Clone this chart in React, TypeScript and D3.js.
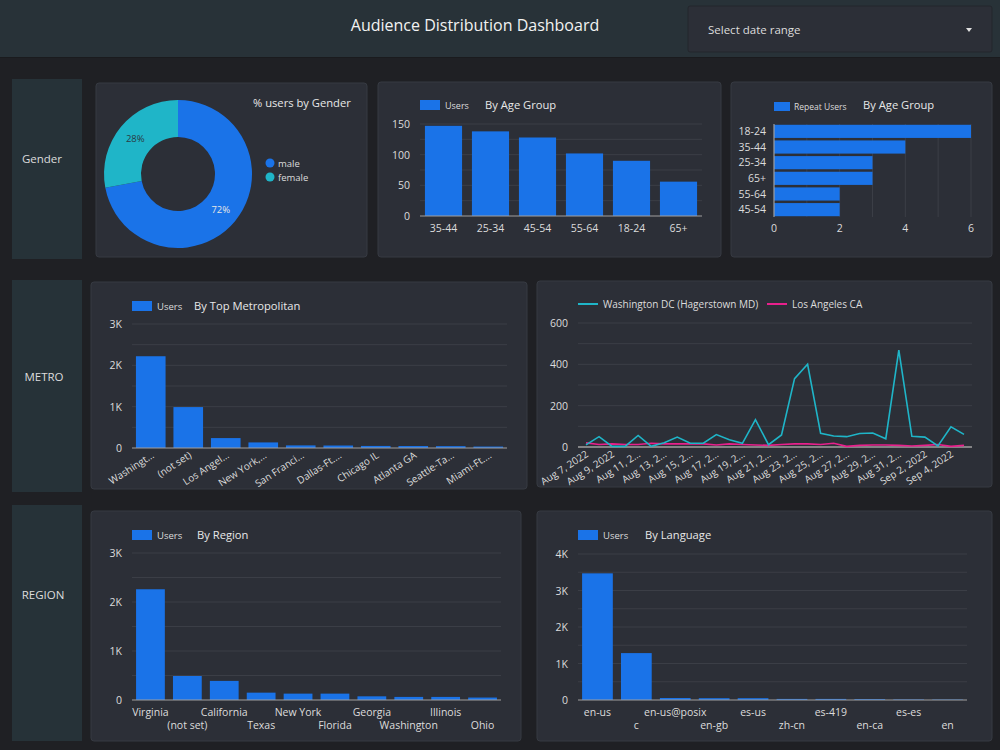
import React from "react";
import * as d3 from "d3";

const FONT = "'Open Sans', 'Noto Sans', sans-serif";
const BLUE = "#1a73e8";
const TEAL = "#1fb5c8";
const PINK = "#e8208c";
const PANEL = "#2c2f37";
const GRID = "#3b3e46";
const AXIS = "#a0a0a0";
const TXT = "#dcdcdc";
const TITLE_SIZE = 11.2;

// ---------- data ----------
const genderLabels = ["male", "female"];
const genderValues = [72, 28];

const ageGroups = ["35-44", "25-34", "45-54", "55-64", "18-24", "65+"];
const ageUsers = [147, 138, 128, 102, 90, 56];

const repeatGroups = ["18-24", "35-44", "25-34", "65+", "55-64", "45-54"];
const repeatUsers = [6, 4, 3, 3, 2, 2];

const metroNames = [
  "Washingt…", "(not set)", "Los Angel…", "New York,…", "San Franci…",
  "Dallas-Ft.…", "Chicago IL", "Atlanta GA", "Seattle-Ta…", "Miami-Ft.…",
];
const metroUsers = [2220, 990, 240, 135, 63, 60, 50, 48, 45, 35];

const days = [
  "Aug 7", "Aug 8", "Aug 9", "Aug 10", "Aug 11", "Aug 12", "Aug 13", "Aug 14", "Aug 15", "Aug 16",
  "Aug 17", "Aug 18", "Aug 19", "Aug 20", "Aug 21", "Aug 22", "Aug 23", "Aug 24", "Aug 25", "Aug 26",
  "Aug 27", "Aug 28", "Aug 29", "Aug 30", "Aug 31", "Sep 1", "Sep 2", "Sep 3", "Sep 4", "Sep 5",
];
const dayTickLabels = [
  "Aug 7, 2022", "Aug 9, 2022", "Aug 11, 2…", "Aug 13, 2…", "Aug 15, 2…", "Aug 17, 2…",
  "Aug 19, 2…", "Aug 21, 2…", "Aug 23, 2…", "Aug 25, 2…", "Aug 27, 2…", "Aug 29, 2…",
  "Aug 31, 2…", "Sep 2, 2022", "Sep 4, 2022",
];
const washingtonValues = [10, 50, 3, 3, 56, 3, 21, 48, 18, 18, 60, 35, 18, 132, 11, 58, 331, 400, 66, 53, 50, 65, 68, 40, 469, 52, 48, 5, 98, 61];
const laValues = [20, 12, 15, 12, 12, 18, 15, 15, 15, 15, 10, 15, 12, 10, 8, 12, 15, 15, 12, 18, 3, 8, 10, 10, 8, 5, 8, 12, 3, 8];

const regionNames = ["Virginia", "(not set)", "California", "Texas", "New York", "Florida", "Georgia", "Washington", "Illinois", "Ohio"];
const regionUsers = [2260, 490, 390, 150, 130, 130, 75, 63, 63, 50];

const langNames = ["en-us", "c", "en-us@posix", "en-gb", "es-us", "zh-cn", "es-419", "en-ca", "es-es", "en"];
const langUsers = [3470, 1285, 55, 50, 50, 30, 30, 25, 15, 12];

const kFmt = (d: number) => (d === 0 ? "0" : `${d / 1000}K`);

// ---------- components ----------
function Panel({ x, y, w, h }: { x: number; y: number; w: number; h: number }) {
  return <rect x={x} y={y} width={w} height={h} rx={3} fill={PANEL} stroke="#363a42" strokeWidth={1} />;
}

function SideLabel({ y, h, text, ty, tx }: { y: number; h: number; text: string; ty: number; tx: number }) {
  return (
    <g>
      <rect x={12} y={y} width={70} height={h} fill="#263238" />
      <text x={tx} y={ty} textAnchor="middle" fill={TXT} fontSize={11.5} fontFamily={FONT}>
        {text}
      </text>
    </g>
  );
}

function Legend({ x, y, label, title, titleX, labelSize = 9.5 }: any) {
  return (
    <g fontFamily={FONT}>
      <rect x={x} y={y - 5} width={20} height={10} fill={BLUE} />
      <text x={x + 25} y={y + 3.5} fill={TXT} fontSize={labelSize}>{label}</text>
      <text x={titleX} y={y + 4} fill="#e8e8e8" fontSize={TITLE_SIZE}>{title}</text>
    </g>
  );
}

function VBar(props: any) {
  const { x0, x1, yBase, yTop, max, labelStep, gridStep, cats, vals, pad, fmt, mode, labelY } = props;
  const y = d3.scaleLinear().domain([0, max]).range([yBase, yTop]);
  const x = d3.scaleBand<string>().domain(cats).range([x0, x1]).paddingInner(pad).paddingOuter(pad / 2);
  const grid = d3.range(gridStep, max + 0.001, gridStep);
  const ticks = d3.range(0, max + 0.001, labelStep);
  return (
    <g fontFamily={FONT}>
      {grid.map((g) => (
        <line key={g} x1={x0} x2={x1} y1={y(g)} y2={y(g)} stroke={GRID} strokeWidth={1} />
      ))}
      {ticks.map((t) => (
        <text key={t} x={x0 - 10} y={y(t) + 4} textAnchor="end" fill={TXT} fontSize={10.5}>
          {fmt(t)}
        </text>
      ))}
      {cats.map((c: string, i: number) => (
        <rect key={c} x={x(c)} y={y(vals[i])} width={x.bandwidth()} height={yBase - y(vals[i])} fill={BLUE} />
      ))}
      <line x1={x0} x2={x1} y1={yBase} y2={yBase} stroke={AXIS} strokeWidth={1.2} />
      {cats.map((c: string, i: number) => {
        const cx = (x(c) as number) + x.bandwidth() / 2;
        if (mode === "rot") {
          return (
            <text key={c} transform={`translate(${cx + 4},${yBase + 9}) rotate(-33)`} textAnchor="end" fill={TXT} fontSize={10}>
              {c}
            </text>
          );
        }
        if (mode === "stagger") {
          return (
            <text key={c} x={cx} y={yBase + (i % 2 === 0 ? 15.5 : 29)} textAnchor="middle" fill={TXT} fontSize={10.5}>
              {c}
            </text>
          );
        }
        return (
          <text key={c} x={cx} y={labelY} textAnchor="middle" fill={TXT} fontSize={10.5}>
            {c}
          </text>
        );
      })}
    </g>
  );
}

function Donut() {
  const cx = 178, cy = 174;
  const pie = d3.pie<number>().sort(null).value((d) => d);
  const arcs = pie(genderValues);
  const arc = d3.arc<d3.PieArcDatum<number>>().innerRadius(37).outerRadius(74);
  const colors = [BLUE, TEAL];
  const lblColors = ["#e6e6e6", "#2a3a44"];
  return (
    <g fontFamily={FONT}>
      <g transform={`translate(${cx},${cy})`}>
        {arcs.map((a, i) => (
          <path key={i} d={arc(a) as string} fill={colors[i]} />
        ))}
        {arcs.map((a, i) => {
          const [lx, ly] = arc.centroid(a);
          return (
            <text key={i} x={lx} y={ly + 3.5} textAnchor="middle" fill={lblColors[i]} fontSize={9.5}>
              {genderValues[i]}%
            </text>
          );
        })}
      </g>
      <text x={253} y={107} fill="#e8e8e8" fontSize={TITLE_SIZE}>% users by Gender</text>
      {genderLabels.map((g, i) => (
        <g key={g}>
          <circle cx={270} cy={163 + i * 14} r={4.5} fill={colors[i]} />
          <text x={278} y={166.5 + i * 14} fill={TXT} fontSize={9.5}>{g}</text>
        </g>
      ))}
    </g>
  );
}

function HBar() {
  const x0 = 774, x1 = 971;
  const x = d3.scaleLinear().domain([0, 6]).range([x0, x1]);
  const y = d3.scaleBand<string>().domain(repeatGroups).range([124, 217]).paddingInner(0.16).paddingOuter(0.05);
  return (
    <g fontFamily={FONT}>
      {d3.range(1, 7).map((t) => (
        <line key={t} x1={x(t)} x2={x(t)} y1={124} y2={217} stroke={GRID} />
      ))}
      {repeatGroups.map((g, i) => (
        <g key={g}>
          <rect x={x0} y={y(g)} width={x(repeatUsers[i]) - x0} height={y.bandwidth()} fill={BLUE} />
          <text x={x0 - 8} y={(y(g) as number) + y.bandwidth() / 2 + 3.8} textAnchor="end" fill={TXT} fontSize={10.5}>
            {g}
          </text>
        </g>
      ))}
      <line x1={x0} x2={x0} y1={124} y2={217} stroke={AXIS} strokeWidth={1.2} />
      {[0, 2, 4, 6].map((t) => (
        <text key={t} x={x(t)} y={232} textAnchor="middle" fill={TXT} fontSize={10.5}>{t}</text>
      ))}
      <rect x={774} y={102} width={16} height={9} fill={BLUE} />
      <text x={794} y={109.5} fill={TXT} fontSize={8.5}>Repeat Users</text>
      <text x={863} y={109} fill="#e8e8e8" fontSize={TITLE_SIZE}>By Age Group</text>
    </g>
  );
}

function LineChart() {
  const x0 = 578, x1 = 972, yBase = 447, yTop = 323;
  const x = d3.scaleLinear().domain([0, days.length - 1]).range([586, 964]);
  const y = d3.scaleLinear().domain([0, 600]).range([yBase, yTop]);
  const line = d3.line<number>().x((_, i) => x(i)).y((d) => y(d));
  return (
    <g fontFamily={FONT}>
      {d3.range(100, 601, 100).map((g) => (
        <line key={g} x1={x0} x2={x1} y1={y(g)} y2={y(g)} stroke={GRID} />
      ))}
      {[0, 200, 400, 600].map((t) => (
        <text key={t} x={x0 - 10} y={y(t) + 4} textAnchor="end" fill={TXT} fontSize={10.5}>{t}</text>
      ))}
      <line x1={x0} x2={x1} y1={yBase} y2={yBase} stroke={AXIS} strokeWidth={1.5} />
      <path d={line(laValues) as string} fill="none" stroke={PINK} strokeWidth={1.6} />
      <path d={line(washingtonValues) as string} fill="none" stroke={TEAL} strokeWidth={1.6} />
      {dayTickLabels.map((l, k) => (
        <text key={l} transform={`translate(${x(k * 2) + 3},${yBase + 9}) rotate(-33)`} textAnchor="end" fill={TXT} fontSize={10}>
          {l}
        </text>
      ))}
      <line x1={578} x2={598} y1={304} y2={304} stroke={TEAL} strokeWidth={2} />
      <text x={603} y={307.5} fill={TXT} fontSize={10}>Washington DC (Hagerstown MD)</text>
      <line x1={767} x2={787} y1={304} y2={304} stroke={PINK} strokeWidth={2} />
      <text x={792} y={307.5} fill={TXT} fontSize={10}>Los Angeles CA</text>
    </g>
  );
}

export default function App() {
  return (
    <svg width={1000} height={750} style={{ position: "absolute", left: 0, top: 0, display: "block" }} fontFamily={FONT}>
      <rect x={0} y={0} width={1000} height={750} fill="#1f2024" />
      <rect x={0} y={0} width={1000} height={57} fill="#283238" />
      <line x1={0} x2={1000} y1={57.5} y2={57.5} stroke="#1a1b1e" />
      <text x={475} y={31} textAnchor="middle" fill="#f2f2f2" fontSize={16}>Audience Distribution Dashboard</text>
      <rect x={688} y={6} width={304} height={46} rx={2} fill={PANEL} stroke="#23262c" />
      <text x={708} y={34} fill={TXT} fontSize={11.5}>Select date range</text>
      <path d="M966,28 L972,28 L969,32 Z" fill="#e0e0e0" />

      <SideLabel y={79} h={180} text="Gender" tx={42} ty={163} />
      <SideLabel y={280} h={212} text="METRO" tx={44} ty={381} />
      <SideLabel y={505} h={236} text="REGION" tx={43} ty={599} />

      <Panel x={96} y={83} w={271} h={174} />
      <Panel x={378} y={82} w={343} h={175} />
      <Panel x={731} y={82} w={261} h={175} />
      <Panel x={91} y={282} w={436} h={207} />
      <Panel x={537} y={281} w={455} h={206} />
      <Panel x={91} y={511} w={430} h={230} />
      <Panel x={537} y={511} w={455} h={230} />

      <Donut />

      <Legend x={420} y={105} label="Users" title="By Age Group" titleX={485} labelSize={9} />
      <VBar x0={420} x1={702} yBase={216} yTop={124} max={150} labelStep={50} gridStep={25}
        cats={ageGroups} vals={ageUsers} pad={0.21} fmt={(d: number) => `${d}`} mode="plain" labelY={232} />

      <HBar />

      <Legend x={132} y={306} label="Users" title="By Top Metropolitan" titleX={194} />
      <VBar x0={132} x1={507} yBase={448} yTop={324} max={3000} labelStep={1000} gridStep={500}
        cats={metroNames} vals={metroUsers} pad={0.21} fmt={kFmt} mode="rot" />

      <LineChart />

      <Legend x={132} y={535} label="Users" title="By Region" titleX={197} />
      <VBar x0={132} x1={501} yBase={700} yTop={553} max={3000} labelStep={1000} gridStep={500}
        cats={regionNames} vals={regionUsers} pad={0.22} fmt={kFmt} mode="stagger" />

      <Legend x={578} y={535} label="Users" title="By Language" titleX={645} />
      <VBar x0={578} x1={967} yBase={700} yTop={554} max={4000} labelStep={1000} gridStep={500}
        cats={langNames} vals={langUsers} pad={0.21} fmt={kFmt} mode="stagger" />
    </svg>
  );
}
